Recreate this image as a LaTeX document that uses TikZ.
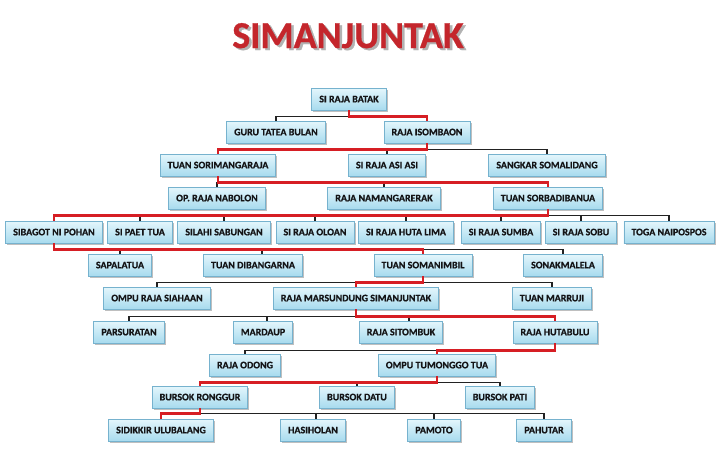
\documentclass[tikz,border=0pt]{standalone}
\usepackage{fontspec}
\setmainfont{Carlito}
\newfontfamily\boxfont{Carlito}[BoldFeatures={FakeBold=0.7}]
\usetikzlibrary{shadows}
\definecolor{boxtop}{RGB}{228,246,252}
\definecolor{boxbottom}{RGB}{168,219,238}
\definecolor{boxline}{RGB}{118,178,206}
\definecolor{boxtext}{RGB}{20,20,22}
\definecolor{kinblack}{RGB}{34,34,34}
\definecolor{lineagered}{RGB}{214,30,36}
\definecolor{titlered}{RGB}{196,38,44}

\begin{document}
\begin{tikzpicture}[x=1pt, y=-1pt,
    person/.style={draw=boxline, line width=0.8pt, top color=boxtop,
      bottom color=boxbottom, drop shadow={shadow xshift=1.6pt,
        shadow yshift=-1.6pt, fill=black!55, opacity=.45},
      minimum height=22pt, inner xsep=7.5pt, inner ysep=0pt,
      text height=6.6pt, text depth=0pt, text=boxtext,
      font=\boxfont\bfseries\fontsize{10}{12}\selectfont},
    kinline/.style={draw=kinblack, line width=1.3pt},
    lineage/.style={draw=lineagered, line width=2.4pt},
    titletext/.style={anchor=base, inner sep=0pt,
      font=\boxfont\bfseries\fontsize{38}{46}\selectfont}]
  \fill[white] (0,0) rectangle (720,471);
  \useasboundingbox (0,0) rectangle (720,471);

  \node[titletext, text=black!30] (titleshade) at (350.5,50) {SIMANJUNTAK};
  \node[titletext, text=titlered] (title) at (348,48) {SIMANJUNTAK};

  \node[person] (batak) at (349,99) {SI RAJA BATAK};
  \node[person] (guru) at (276,132) {GURU TATEA BULAN};
  \node[person] (isombaon) at (427,132) {RAJA ISOMBAON};
  \node[person] (sorimangaraja) at (218,165) {TUAN SORIMANGARAJA};
  \node[person] (asiasi) at (387,165) {SI RAJA ASI ASI};
  \node[person] (sangkar) at (547,165) {SANGKAR SOMALIDANG};
  \node[person] (nabolon) at (217,198) {OP. RAJA NABOLON};
  \node[person] (namangarerak) at (384,198) {RAJA NAMANGARERAK};
  \node[person] (sorbadibanua) at (548,198) {TUAN SORBADIBANUA};
  \node[person] (sibagot) at (54,232) {SIBAGOT NI POHAN};
  \node[person] (paettua) at (140,232) {SI PAET TUA};
  \node[person] (silahi) at (224,232) {SILAHI SABUNGAN};
  \node[person] (oloan) at (315,232) {SI RAJA OLOAN};
  \node[person] (hutalima) at (406,232) {SI RAJA HUTA LIMA};
  \node[person] (sumba) at (501,232) {SI RAJA SUMBA};
  \node[person] (sobu) at (581,232) {SI RAJA SOBU};
  \node[person] (naipospos) at (669,232) {TOGA NAIPOSPOS};
  \node[person] (sapalatua) at (120,265) {SAPALATUA};
  \node[person] (dibangarna) at (253,265) {TUAN DIBANGARNA};
  \node[person] (somanimbil) at (423,265) {TUAN SOMANIMBIL};
  \node[person] (sonakmalela) at (563,265) {SONAKMALELA};
  \node[person] (siahaan) at (157,298) {OMPU RAJA SIAHAAN};
  \node[person] (marsundung) at (356,298) {RAJA MARSUNDUNG SIMANJUNTAK};
  \node[person] (marruji) at (552,298) {TUAN MARRUJI};
  \node[person] (parsuratan) at (129,332) {PARSURATAN};
  \node[person] (mardaup) at (263,332) {MARDAUP};
  \node[person] (sitombuk) at (401,332) {RAJA SITOMBUK};
  \node[person] (hutabulu) at (555,332) {RAJA HUTABULU};
  \node[person] (odong) at (245,365) {RAJA ODONG};
  \node[person] (tumonggo) at (437,365) {OMPU TUMONGGO TUA};
  \node[person] (ronggur) at (200,397) {BURSOK RONGGUR};
  \node[person] (datu) at (357,397) {BURSOK DATU};
  \node[person] (pati) at (500,397) {BURSOK PATI};
  \node[person] (ulubalang) at (161,430) {SIDIKKIR ULUBALANG};
  \node[person] (hasiholan) at (313,430) {HASIHOLAN};
  \node[person] (pamoto) at (434,430) {PAMOTO};
  \node[person] (pahutar) at (544,430) {PAHUTAR};

  \draw[kinline] (batak.south) -- ++(0,6) -| (guru.north);
  \draw[kinline] (isombaon.south) -- ++(0,6) -| (asiasi.north)
    (isombaon.south) -- ++(0,6) -| (sangkar.north);
  \draw[kinline] (sorimangaraja.south) -- ++(0,6) -| (nabolon.north)
    (sorimangaraja.south) -- ++(0,6) -| (namangarerak.north);
  \draw[kinline] (sorbadibanua.south) -- ++(0,6) -| (paettua.north)
    (sorbadibanua.south) -- ++(0,6) -| (silahi.north)
    (sorbadibanua.south) -- ++(0,6) -| (oloan.north)
    (sorbadibanua.south) -- ++(0,6) -| (hutalima.north)
    (sorbadibanua.south) -- ++(0,6) -| (sumba.north)
    (sorbadibanua.south) -- ++(0,6) -| (sobu.north)
    (sorbadibanua.south) -- ++(0,6) -| (naipospos.north);
  \draw[kinline] (sibagot.south) -- ++(0,6) -| (sapalatua.north)
    (sibagot.south) -- ++(0,6) -| ([xshift=9pt]dibangarna.north)
    (sibagot.south) -- ++(0,6) -| (sonakmalela.north);
  \draw[kinline] (somanimbil.south) -- ++(0,6) -| (siahaan.north)
    (somanimbil.south) -- ++(0,6) -| (marruji.north);
  \draw[kinline] (marsundung.south) -- ++(0,7) -| (parsuratan.north)
    (marsundung.south) -- ++(0,7) -| ([xshift=4pt]mardaup.north)
    (marsundung.south) -- ++(0,7) -| ([xshift=8pt]sitombuk.north);
  \draw[kinline] (hutabulu.south) -- ++(0,7) -| (odong.north);
  \draw[kinline] (tumonggo.south) -- ++(0,6) -| (datu.north)
    (tumonggo.south) -- ++(0,6) -| (pati.north);
  \draw[kinline] (ronggur.south) -- ++(0,5) -| ([xshift=3pt]hasiholan.north)
    (ronggur.south) -- ++(0,5) -| (pamoto.north)
    (ronggur.south) -- ++(0,5) -| (pahutar.north);

  \draw[lineage] (batak.south) -- ++(0,6) -| (isombaon.north);
  \draw[lineage] (isombaon.south) -- ++(0,6) -| (sorimangaraja.north);
  \draw[lineage] (sorimangaraja.south) -- ++(0,6) -| (sorbadibanua.north);
  \draw[lineage] (sorbadibanua.south) -- ++(0,6) -| (sibagot.north);
  \draw[lineage] (sibagot.south) -- ++(0,6) -| (somanimbil.north);
  \draw[lineage] (somanimbil.south) -- ++(0,6) -| (marsundung.north);
  \draw[lineage] (marsundung.south) -- ++(0,7) -| (hutabulu.north);
  \draw[lineage] (hutabulu.south) -- ++(0,7) -| (tumonggo.north);
  \draw[lineage] (tumonggo.south) -- ++(0,6) -| (ronggur.north);
  \draw[lineage] (ronggur.south) -- ++(0,5) -| (ulubalang.north);
\end{tikzpicture}
\end{document}
